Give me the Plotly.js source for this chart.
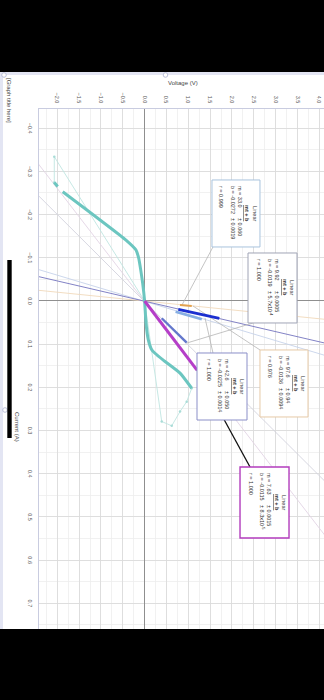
<!DOCTYPE html>
<html><head><meta charset="utf-8">
<script src="https://cdn.plot.ly/plotly-3.0.1.min.js"></script>
<style>
html,body{margin:0;padding:0;background:#000;width:324px;height:700px;overflow:hidden;}
#wrap{position:absolute;left:0;top:0;width:557px;height:324px;transform-origin:0 0;transform:translate(324px,72px) rotate(90deg);background:#fff;}
#plot{width:557px;height:324px;}
</style></head><body><div id="wrap"><div id="plot"></div></div>
<script>
// ---- data (Current in A, Voltage in V) ----
const tealI = [-0.274, -0.265, null, -0.253, -0.141, -0.118, -0.099, -0.072, -0.041, 0.000, 0.051, 0.090, 0.113, 0.121, 0.137, 0.167, 0.202];
const tealV = [-2.068, -1.990, null, -1.875, -0.426, -0.197, -0.135, -0.089, -0.044, 0.000, 0.032, 0.085, 0.163, 0.238, 0.428, 0.811, 1.079];
const rawI = [-0.274, -0.334, 0.000, 0.279, 0.289, 0.256, 0.233, 0.202];
const rawV = [-2.068, -2.068, 0.000, 0.392, 0.621, 0.811, 0.964, 1.079];
const magentaI = [0.000, 0.080, 0.160];
const magentaV = [0.000, 0.600, 1.200];
const slateI = [0.040, 0.0965];
const slateV = [0.392, 0.964];
const darkBlueI = [0.0192, 0.040];
const darkBlueV = [0.772, 1.711];
const lightBlueI = [0.0248, 0.0424];
const lightBlueV = [0.710, 1.310];
const orangeI = [0.0093, 0.0116];
const orangeV = [0.810, 1.080];

// linear fits V = m*I + b
const fitM = [33.0, 9.92, 97.6, 42.6, 7.63];
const fitB = [-0.0272, -0.0119, -0.0136, -0.0225, -0.0115];
const fitMText = ['33.0', '9.92', '97.6', '42.6', '7.63'];
const fitDM = ['0.060', '0.0005', '0.94', '0.050', '0.0015'];
const fitBText = ['-0.0272', '-0.0119', '-0.0136', '-0.0225', '-0.0115'];
const fitDB = ['0.0019', '5.7x10<sup>-4</sup>', '0.0094', '0.0014', '8.3x10<sup>-5</sup>'];
const fitR = ['0.999', '1.000', '0.976', '1.000', '1.000'];

const xTickVals = [-0.4, -0.3, -0.2, -0.1, 0.0, 0.1, 0.2, 0.3, 0.4, 0.5, 0.6, 0.7];
const yTickVals = [-2.0, -1.5, -1.0, -0.5, 0.0, 0.5, 1.0, 1.5, 2.0, 2.5, 3.0, 3.5, 4.0];

// ---- styling / layout ----
const fitColors = ['#c6d3ea', '#d2d2de', '#f1d9bb', '#8383c6', '#e2d4e4'];
const boxColors = ['#a9c3dd', '#a0a4b6', '#e6c9a6', '#8b8fc8', '#b23dbd'];
const boxRects = [
  [-0.2801, -0.125, 1.543, 2.642],
  [-0.1111, 0.0509, 2.368, 3.490],
  [0.1134, 0.2685, 2.642, 3.742],
  [0.1204, 0.2755, 1.200, 2.345],
  [0.3843, 0.5486, 2.185, 3.307]
];
const leaders = [
  {I: [-0.125, 0.0093], V: [1.566, 0.856], c: '#b5b5b5', w: 0.8},
  {I: [0.0509, 0.0972], V: [2.482, 0.971], c: '#b5b5b5', w: 0.8},
  {I: [0.1134, 0.0116], V: [2.643, 1.108], c: '#b5b5b5', w: 0.8},
  {I: [0.1204, 0.0394], V: [1.566, 1.383], c: '#b5b5b5', w: 0.8},
  {I: [0.1597, 0.3843], V: [1.200, 2.414], c: '#111111', w: 1.3}
];
const PXV = 43.67, PXI = 432;
const xR = [-0.4444, 0.7593], yR = [-2.418, 4.108];

const traces = [];
// fit lines
fitM.forEach((m, k) => {
  const ends = [xR[0] - 0.05, xR[1] + 0.05];
  traces.push({x: ends, y: ends.map(i => m * i + fitB[k]), mode: 'lines',
    line: {color: fitColors[k], width: k === 3 ? 1 : 0.9}, hoverinfo: 'skip'});
});
// leaders
leaders.forEach(l => traces.push({x: l.I, y: l.V, mode: 'lines', line: {color: l.c, width: l.w}, hoverinfo: 'skip'}));
traces.push({x: rawI, y: rawV, mode: 'lines+markers', line: {color: '#bfe5e1', width: 0.9},
  marker: {size: 2.5, color: '#a9dcd7'}});
traces.push({x: tealI, y: tealV, mode: 'lines', line: {color: '#6cc6c0', width: 3, shape: 'spline', smoothing: 0.5}});
traces.push({x: lightBlueI, y: lightBlueV, mode: 'lines', line: {color: '#86aee3', width: 2.6}});
traces.push({x: darkBlueI, y: darkBlueV, mode: 'lines', line: {color: '#1b2fd0', width: 2.8}});
traces.push({x: orangeI, y: orangeV, mode: 'lines', line: {color: '#e3a24f', width: 2}});
traces.push({x: slateI, y: slateV, mode: 'lines', line: {color: '#6478cc', width: 2.4}});
traces.push({x: magentaI, y: magentaV, mode: 'lines', line: {color: '#b53ec8', width: 3}});

const shapes = [];
const annotations = [];
const txtFont = {family: 'Liberation Sans, Arial, sans-serif', size: 5.5, color: '#333'};
boxRects.forEach((r, k) => {
  shapes.push({type: 'rect', xref: 'x', yref: 'y', x0: r[0], x1: r[1], y0: r[2], y1: r[3],
    fillcolor: '#ffffff', line: {color: boxColors[k], width: k === 4 ? 1.4 : 1}, layer: 'above'});
  const top = r[3], left = r[0], mid = (r[0] + r[1]) / 2;
  const vy = off => top - off / PXV;
  annotations.push({xref: 'x', yref: 'y', x: mid, y: vy(5), text: 'Linear', showarrow: false, xanchor: 'center', yanchor: 'middle', font: txtFont});
  annotations.push({xref: 'x', yref: 'y', x: mid, y: vy(12.5), text: '<b><u>mt + b</u></b>', showarrow: false, xanchor: 'center', yanchor: 'middle', font: txtFont});
  annotations.push({xref: 'x', yref: 'y', x: left + 4 / PXI, y: vy(20), text: 'm = ' + fitMText[k], showarrow: false, xanchor: 'left', yanchor: 'middle', font: txtFont});
  annotations.push({xref: 'x', yref: 'y', x: left + 36 / PXI, y: vy(20), text: '± ' + fitDM[k], showarrow: false, xanchor: 'left', yanchor: 'middle', font: txtFont});
  annotations.push({xref: 'x', yref: 'y', x: left + 4 / PXI, y: vy(27), text: 'b = ' + fitBText[k], showarrow: false, xanchor: 'left', yanchor: 'middle', font: txtFont});
  annotations.push({xref: 'x', yref: 'y', x: left + 36 / PXI, y: vy(27), text: '± ' + fitDB[k], showarrow: false, xanchor: 'left', yanchor: 'middle', font: txtFont});
  annotations.push({xref: 'x', yref: 'y', x: left + 4 / PXI, y: vy(38.5), text: 'r = ' + fitR[k], showarrow: false, xanchor: 'left', yanchor: 'middle', font: txtFont});
});

// paper helpers (local px -> paper); plot area x 37..557, y 0..285
const PW = 520, PH = 285, PL = 37;
const px = X => (X - PL) / PW, py = Y => 1 - Y / PH;
// frame strips and UI bits
shapes.push({type: 'rect', xref: 'paper', yref: 'paper', x0: px(0), x1: px(3), y0: py(324), y1: py(0), fillcolor: '#e3e5f3', line: {width: 0}});
shapes.push({type: 'rect', xref: 'paper', yref: 'paper', x0: px(0), x1: px(557), y0: py(324), y1: py(321), fillcolor: '#e3e5f3', line: {width: 0}});
[[3, 320], [3, 158.5], [338, 319]].forEach(c => {
  shapes.push({type: 'circle', xref: 'paper', yref: 'paper', x0: px(c[0] - 2.3), x1: px(c[0] + 2.3), y0: py(c[1] + 2.3), y1: py(c[1] - 2.3),
    fillcolor: '#ffffff', line: {color: '#b4b9d6', width: 0.9}});
});
shapes.push({type: 'rect', xref: 'paper', yref: 'paper', x0: px(188), x1: px(366), y0: py(316.7), y1: py(312.3), fillcolor: '#000', line: {width: 0}});

const lblFont = {family: 'Liberation Sans, Arial, sans-serif', size: 6, color: '#444'};
annotations.push({xref: 'paper', yref: 'paper', x: px(11), y: py(141), text: 'Voltage (V)', textangle: -90, showarrow: false, xanchor: 'center', yanchor: 'middle', font: lblFont});
annotations.push({xref: 'paper', yref: 'paper', x: px(355), y: py(307), text: 'Current (A)', showarrow: false, xanchor: 'center', yanchor: 'middle', font: lblFont});
annotations.push({xref: 'paper', yref: 'paper', x: px(28), y: py(314.5), text: '[Graph title here]', showarrow: false, xanchor: 'center', yanchor: 'middle', font: lblFont});

const tickFont = {family: 'Liberation Sans, Arial, sans-serif', size: 5.5, color: '#555'};
const layout = {
  width: 557, height: 324, margin: {l: 37, r: 0, t: 0, b: 39, pad: 0},
  paper_bgcolor: '#fff', plot_bgcolor: '#fff', showlegend: false,
  xaxis: {range: xR, tickvals: xTickVals, tickformat: '.1f', ticks: '', tickfont: tickFont,
    showgrid: true, gridcolor: '#d9d9d9', gridwidth: 0.8,
    minor: {dtick: 0.05, tick0: 0, showgrid: true, gridcolor: '#eeeeee', gridwidth: 0.8},
    zeroline: true, zerolinecolor: '#8f8f8f', zerolinewidth: 1,
    showline: true, linecolor: '#c9cce0', linewidth: 1.5, ticklabelstandoff: 3},
  yaxis: {range: yR, tickvals: yTickVals, tickformat: '.1f', ticks: '', tickfont: tickFont,
    showgrid: true, gridcolor: '#d9d9d9', gridwidth: 0.8,
    minor: {dtick: 0.25, tick0: 0, showgrid: true, gridcolor: '#eeeeee', gridwidth: 0.8},
    zeroline: true, zerolinecolor: '#8f8f8f', zerolinewidth: 1,
    showline: true, linecolor: '#c9cce0', linewidth: 1.5, ticklabelstandoff: 3},
  shapes: shapes, annotations: annotations
};
Plotly.newPlot('plot', traces, layout, {staticPlot: true, displayModeBar: false});
</script></body></html>
